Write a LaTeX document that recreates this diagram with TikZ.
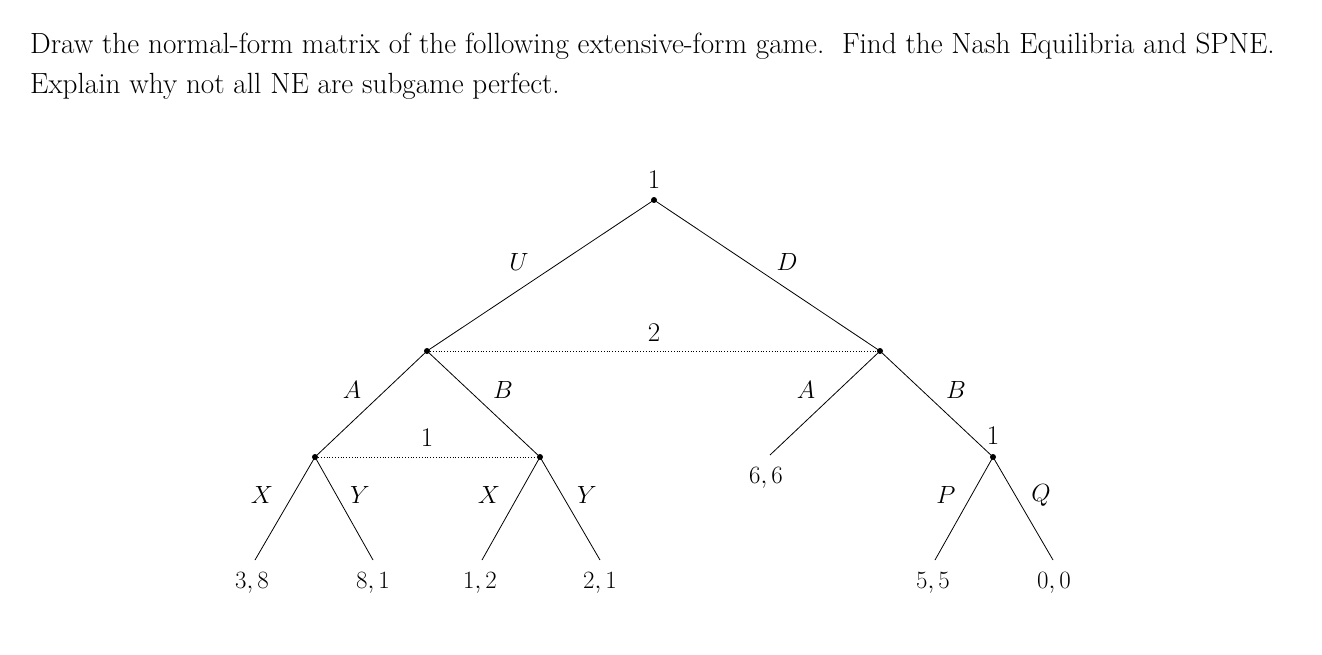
\documentclass[tikz,border=0pt]{standalone}
\begin{document}
\begin{tikzpicture}[x=1pt,y=-1pt,
  dot/.style={circle,fill=black,inner sep=0pt,minimum size=6pt},
  lbl/.style={inner sep=0pt,font=\fontsize{27}{32}\selectfont},
  hd/.style={inner sep=0pt,font=\fontsize{29.2}{34}\selectfont},
  ed/.style={line width=0.8pt}]
\useasboundingbox (0,0) rectangle (1322,654);
\node[hd,anchor=base west] (t1) at (30,53) {Draw the normal-form matrix of the following extensive-form game.\ \ Find the Nash Equilibria and SPNE.};
\node[hd,anchor=base west] (t2) at (30,93) {Explain why not all NE are subgame perfect.};
\node[dot] (r) at (654,200) {};
\node[dot] (a) at (427,351) {};
\node[dot] (b) at (880,351) {};
\node[dot] (c) at (315,457) {};
\node[dot] (d) at (540,457) {};
\node[dot] (e) at (993,457) {};
\coordinate (l66) at (770,455);
\coordinate (l1) at (255,560);
\coordinate (l2) at (373,560);
\coordinate (l3) at (482,560);
\coordinate (l4) at (600,560);
\coordinate (l5) at (935,560);
\coordinate (l6) at (1053,560);
\draw[ed] (r.center)--(a.center); \draw[ed] (r.center)--(b.center);
\draw[ed] (a.center)--(c.center); \draw[ed] (a.center)--(d.center);
\draw[ed] (b.center)--(l66); \draw[ed] (b.center)--(e.center);
\draw[ed] (c.center)--(l1); \draw[ed] (c.center)--(l2);
\draw[ed] (d.center)--(l3); \draw[ed] (d.center)--(l4);
\draw[ed] (e.center)--(l5); \draw[ed] (e.center)--(l6);
\draw[dotted,line width=0.8pt] (a)--(b);
\draw[dotted,line width=0.8pt] (c)--(d);
\node[lbl] (n1) at (654,180) {1};
\node[lbl] (n2) at (654,333) {2};
\node[lbl] (n3) at (427,438) {1};
\node[lbl] (n4) at (993,436) {1};
\node[lbl] (eU) at (519,262) {$U$};
\node[lbl] (eD) at (787,262) {$D$};
\node[lbl] (eA1) at (352,390) {$A$};
\node[lbl] (eB1) at (503,390) {$B$};
\node[lbl] (eA2) at (806,390) {$A$};
\node[lbl] (eB2) at (956,390) {$B$};
\node[lbl] (eX1) at (262,495) {$X$};
\node[lbl] (eY1) at (360,495) {$Y$};
\node[lbl] (eX2) at (489,495) {$X$};
\node[lbl] (eY2) at (587,495) {$Y$};
\node[lbl] (eP) at (946,495) {$P$};
\node[lbl] (eQ) at (1041,495) {$Q$};
\node[lbl] (p0) at (766,478) {$6,6$};
\node[lbl] (p1) at (252,583) {$3,8$};
\node[lbl] (p2) at (373,583) {$8,1$};
\node[lbl] (p3) at (480,583) {$1,2$};
\node[lbl] (p4) at (600,583) {$2,1$};
\node[lbl] (p5) at (933,583) {$5,5$};
\node[lbl] (p6) at (1054,583) {$0,0$};
\end{tikzpicture}
\end{document}
